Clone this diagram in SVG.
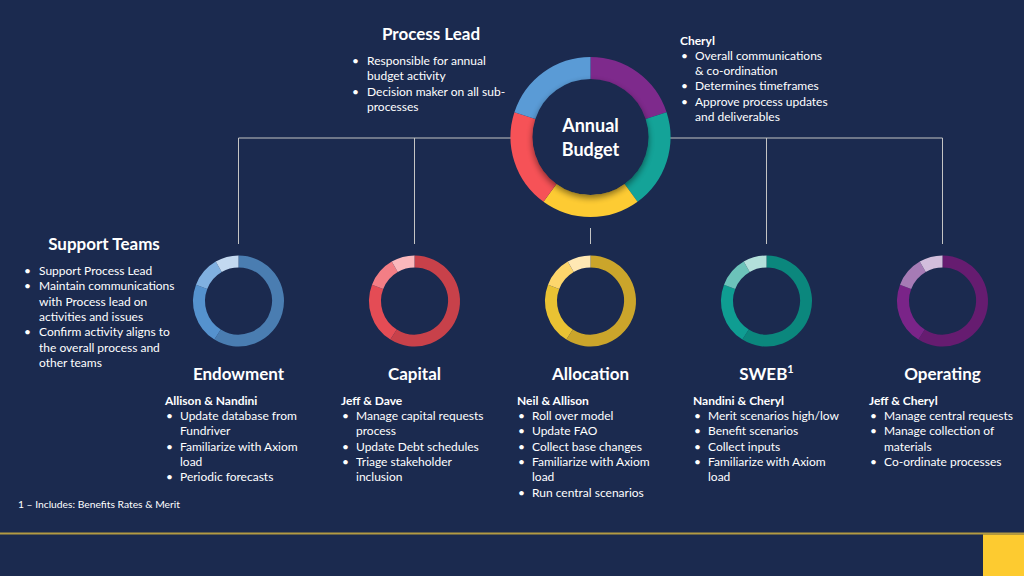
<svg xmlns="http://www.w3.org/2000/svg" width="1024" height="576" viewBox="0 0 1024 576">
<style>
text{font-family:Lato,"Open Sans","Liberation Sans",sans-serif;fill:#ffffff}
.title{font-size:17px;font-weight:700}
.name{font-size:12px;font-weight:700}
.t{font-size:12px}
.big{font-size:18px;font-weight:700}
.foot{font-size:10.3px}
.conn{stroke:#c4c4c4;stroke-width:1;fill:none}
.seg{fill:none;stroke-width:22}
</style>
<defs>
<path id="s1" d="M0,-39.5 A39.5,39.5 0 1 1 -20.93,33.5" fill="none" stroke-width="12"/>
<path id="s2" d="M-20.93,33.5 A39.5,39.5 0 0 1 -36.88,-14.16" fill="none" stroke-width="12"/>
<path id="s3" d="M-36.88,-14.16 A39.5,39.5 0 0 1 -19.75,-34.21" fill="none" stroke-width="12"/>
<path id="s4" d="M-19.75,-34.21 A39.5,39.5 0 0 1 0,-39.5" fill="none" stroke-width="12"/>
<clipPath id="ringClip"><path clip-rule="evenodd" d="M510.5,137 a80,80 0 1,0 160,0 a80,80 0 1,0 -160,0 Z M532.5,137 a58,58 0 1,0 116,0 a58,58 0 1,0 -116,0 Z"/></clipPath>
<filter id="blur" x="-20%" y="-20%" width="140%" height="140%"><feGaussianBlur stdDeviation="3"/></filter>
</defs>
<rect width="1024" height="576" fill="#1b2a4f"/>

<g id="connectors">
<path class="conn" d="M238.5,244 V138 H511"/>
<path class="conn" d="M414.5,244 V138"/>
<path class="conn" d="M670,138 H942.5 V244"/>
<path class="conn" d="M766.5,244 V138"/>
<path class="conn" d="M590.5,228 V244"/>
</g>

<g id="node-annual-budget">
<path class="seg" stroke="#7e2a8c" d="M590.5,68 A69,69 0 0 1 656.13,115.68"/>
<path class="seg" stroke="#14a398" d="M656.13,115.68 A69,69 0 0 1 631.06,192.82"/>
<path class="seg" stroke="#fdcb33" d="M631.06,192.82 A69,69 0 0 1 549.94,192.82"/>
<path class="seg" stroke="#f65257" d="M549.94,192.82 A69,69 0 0 1 524.87,115.68"/>
<path class="seg" stroke="#5a9bd6" d="M524.87,115.68 A69,69 0 0 1 590.5,68"/>
<circle cx="590.5" cy="140" r="58" fill="#000" opacity="0.45" filter="url(#blur)" clip-path="url(#ringClip)"/>
<text class="big" x="590.5" y="132" text-anchor="middle">Annual</text>
<text class="big" x="590.5" y="156" text-anchor="middle">Budget</text>
</g>

<g id="node-process-lead">
<text class="title" x="431" y="40" text-anchor="middle">Process Lead</text>
<text class="t" x="352" y="65">•</text><text class="t" x="367" y="65">Responsible for annual</text>
<text class="t" x="367" y="80.3">budget activity</text>
<text class="t" x="352" y="95.6">•</text><text class="t" x="367" y="95.6">Decision maker on all sub-</text>
<text class="t" x="367" y="111">processes</text>
</g>

<g id="node-cheryl">
<text class="name" x="680" y="45">Cheryl</text>
<text class="t" x="681" y="59.5">•</text><text class="t" x="695" y="59.5">Overall communications</text>
<text class="t" x="695" y="75">&amp; co-ordination</text>
<text class="t" x="681" y="90.3">•</text><text class="t" x="695" y="90.3">Determines timeframes</text>
<text class="t" x="681" y="105.6">•</text><text class="t" x="695" y="105.6">Approve process updates</text>
<text class="t" x="695" y="121">and deliverables</text>
</g>

<g id="node-support-teams">
<text class="title" x="104" y="250" text-anchor="middle">Support Teams</text>
<text class="t" x="24" y="275">•</text><text class="t" x="39" y="275">Support Process Lead</text>
<text class="t" x="24" y="290.3">•</text><text class="t" x="39" y="290.3">Maintain communications</text>
<text class="t" x="39" y="305.6">with Process lead on</text>
<text class="t" x="39" y="321">activities and issues</text>
<text class="t" x="24" y="336.3">•</text><text class="t" x="39" y="336.3">Confirm activity aligns to</text>
<text class="t" x="39" y="351.6">the overall process and</text>
<text class="t" x="39" y="367">other teams</text>
</g>

<g id="node-endowment">
<g transform="translate(238.5,301)">
<use href="#s1" stroke="#4a7db1"/><use href="#s2" stroke="#5592ce"/><use href="#s3" stroke="#80b0e0"/><use href="#s4" stroke="#c3d9f0"/>
</g>
<text class="title" x="238.5" y="380" text-anchor="middle">Endowment</text>
<text class="name" x="165" y="405">Allison &amp; Nandini</text>
<text class="t" x="166" y="420">•</text><text class="t" x="180" y="420">Update database from</text>
<text class="t" x="180" y="435.3">Fundriver</text>
<text class="t" x="166" y="450.6">•</text><text class="t" x="180" y="450.6">Familiarize with Axiom</text>
<text class="t" x="180" y="466">load</text>
<text class="t" x="166" y="481.3">•</text><text class="t" x="180" y="481.3">Periodic forecasts</text>
</g>

<g id="node-capital">
<g transform="translate(414.5,301)">
<use href="#s1" stroke="#c8414a"/><use href="#s2" stroke="#e44c55"/><use href="#s3" stroke="#f37e85"/><use href="#s4" stroke="#fbb8bc"/>
</g>
<text class="title" x="414.5" y="380" text-anchor="middle">Capital</text>
<text class="name" x="341" y="405">Jeff &amp; Dave</text>
<text class="t" x="342" y="420">•</text><text class="t" x="356" y="420">Manage capital requests</text>
<text class="t" x="356" y="435.3">process</text>
<text class="t" x="342" y="450.6">•</text><text class="t" x="356" y="450.6">Update Debt schedules</text>
<text class="t" x="342" y="466">•</text><text class="t" x="356" y="466">Triage stakeholder</text>
<text class="t" x="356" y="481.3">inclusion</text>
</g>

<g id="node-allocation">
<g transform="translate(590.5,301)">
<use href="#s1" stroke="#cba52b"/><use href="#s2" stroke="#e9c233"/><use href="#s3" stroke="#fdd66c"/><use href="#s4" stroke="#ffe8b3"/>
</g>
<text class="title" x="590.5" y="380" text-anchor="middle">Allocation</text>
<text class="name" x="517" y="405">Neil &amp; Allison</text>
<text class="t" x="518" y="420">•</text><text class="t" x="532" y="420">Roll over model</text>
<text class="t" x="518" y="435.3">•</text><text class="t" x="532" y="435.3">Update FAO</text>
<text class="t" x="518" y="450.6">•</text><text class="t" x="532" y="450.6">Collect base changes</text>
<text class="t" x="518" y="466">•</text><text class="t" x="532" y="466">Familiarize with Axiom</text>
<text class="t" x="532" y="481.3">load</text>
<text class="t" x="518" y="496.6">•</text><text class="t" x="532" y="496.6">Run central scenarios</text>
</g>

<g id="node-sweb">
<g transform="translate(766.5,301)">
<use href="#s1" stroke="#0b877d"/><use href="#s2" stroke="#0f9d92"/><use href="#s3" stroke="#6cc3ba"/><use href="#s4" stroke="#b3e0db"/>
</g>
<text class="title" x="766.5" y="380" text-anchor="middle">SWEB<tspan font-size="11" dy="-7">1</tspan></text>
<text class="name" x="693" y="405">Nandini &amp; Cheryl</text>
<text class="t" x="694" y="420">•</text><text class="t" x="708" y="420">Merit scenarios high/low</text>
<text class="t" x="694" y="435.3">•</text><text class="t" x="708" y="435.3">Benefit scenarios</text>
<text class="t" x="694" y="450.6">•</text><text class="t" x="708" y="450.6">Collect inputs</text>
<text class="t" x="694" y="466">•</text><text class="t" x="708" y="466">Familiarize with Axiom</text>
<text class="t" x="708" y="481.3">load</text>
</g>

<g id="node-operating">
<g transform="translate(942.5,301)">
<use href="#s1" stroke="#661c70"/><use href="#s2" stroke="#7a2488"/><use href="#s3" stroke="#a67bb5"/><use href="#s4" stroke="#d2bedc"/>
</g>
<text class="title" x="942.5" y="380" text-anchor="middle">Operating</text>
<text class="name" x="869" y="405">Jeff &amp; Cheryl</text>
<text class="t" x="870" y="420">•</text><text class="t" x="884" y="420">Manage central requests</text>
<text class="t" x="870" y="435.3">•</text><text class="t" x="884" y="435.3">Manage collection of</text>
<text class="t" x="884" y="450.6">materials</text>
<text class="t" x="870" y="466">•</text><text class="t" x="884" y="466">Co-ordinate processes</text>
</g>

<g id="footnote">
<text class="foot" x="18" y="508">1 – Includes: Benefits Rates &amp; Merit</text>
</g>

<g id="footer">
<line x1="0" y1="533.5" x2="1024" y2="533.5" stroke="#b39a43" stroke-width="2"/>
<rect x="983" y="534.5" width="41" height="41.5" fill="#fdcb30"/>
</g>
</svg>
